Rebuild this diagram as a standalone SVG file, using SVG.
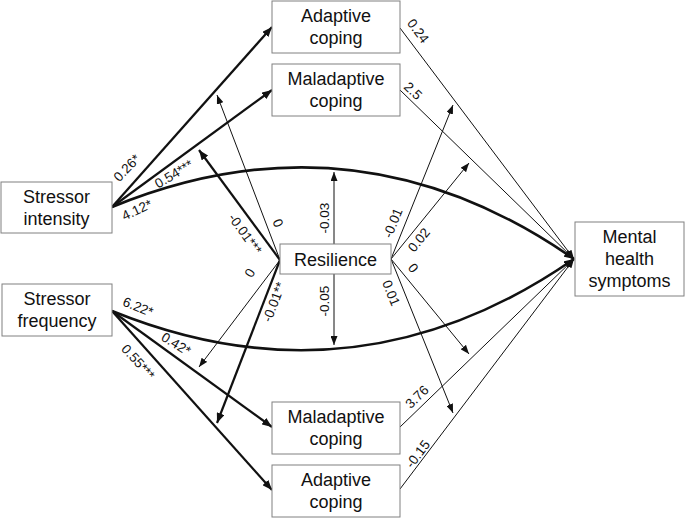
<svg xmlns="http://www.w3.org/2000/svg" width="685" height="519" viewBox="0 0 685 519">
<style>
.box{fill:#fff;stroke:#808080;stroke-width:1}
.nt{font-family:"Liberation Sans",Arial,sans-serif;font-size:18px;fill:#111;text-anchor:middle}
.lb{font-family:"Liberation Sans",Arial,sans-serif;font-size:13.5px;fill:#111;text-anchor:middle;dominant-baseline:central}
.thin{fill:none;stroke:#111;stroke-width:1;marker-end:url(#ah)}
.thick{fill:none;stroke:#111;stroke-width:2.2;marker-end:url(#ahb)}
.curve{fill:none;stroke:#111;stroke-width:2.6;marker-end:url(#ahb)}
</style>
<defs>
<marker id="ah" markerUnits="userSpaceOnUse" markerWidth="9" markerHeight="7" refX="9" refY="3.5" orient="auto"><path d="M0,0 L9,3.5 L0,7 z" fill="#111"/></marker>
<marker id="ahb" markerUnits="userSpaceOnUse" markerWidth="10" markerHeight="8" refX="10" refY="4" orient="auto"><path d="M0,0 L10,4 L0,8 z" fill="#111"/></marker>
</defs>
<rect width="685" height="519" fill="#fff"/>
<g id="connectors">
<path class="curve" d="M112,207 Q356,107 574,259"/>
<path class="curve" d="M112,311 Q356,410 574,259"/>
<line class="thick" x1="112" y1="207" x2="272" y2="27"/>
<line class="thick" x1="112" y1="207" x2="272" y2="90"/>
<line class="thick" x1="112" y1="311" x2="272" y2="427"/>
<line class="thick" x1="112" y1="311" x2="272" y2="490"/>
<line class="thin" x1="400" y1="28" x2="574" y2="259"/>
<line class="thin" x1="400" y1="90" x2="574" y2="259"/>
<line class="thin" x1="400" y1="427" x2="574" y2="259"/>
<line class="thin" x1="400" y1="489" x2="574" y2="259"/>
<line class="thick" x1="280" y1="260" x2="199" y2="150"/>
<line class="thin" x1="280" y1="260" x2="217" y2="95"/>
<line class="thin" x1="280" y1="260" x2="199" y2="367"/>
<line class="thick" x1="280" y1="260" x2="217" y2="423"/>
<line class="thin" x1="334" y1="244" x2="334" y2="172"/>
<line class="thin" x1="334" y1="274" x2="334" y2="345"/>
<line class="thin" x1="391" y1="259" x2="453" y2="105"/>
<line class="thin" x1="391" y1="259" x2="469" y2="163"/>
<line class="thin" x1="391" y1="259" x2="469" y2="354"/>
<line class="thin" x1="391" y1="259" x2="453" y2="413"/>
<text class="lb" transform="translate(127,168) rotate(-46)">0.26*</text>
<text class="lb" transform="translate(174,174) rotate(-31)">0.54***</text>
<text class="lb" transform="translate(137,210) rotate(-25)">4.12*</text>
<text class="lb" transform="translate(138,307) rotate(22)">6.22*</text>
<text class="lb" transform="translate(176,344) rotate(31)">0.42*</text>
<text class="lb" transform="translate(138,362) rotate(48)">0.55***</text>
<text class="lb" transform="translate(245,234) rotate(54)">-0.01***</text>
<text class="lb" transform="translate(278,223) rotate(66)">0</text>
<text class="lb" transform="translate(250,273) rotate(-60)">0</text>
<text class="lb" transform="translate(274,302) rotate(-69)">-0.01**</text>
<text class="lb" transform="translate(324,218) rotate(-90)">-0.03</text>
<text class="lb" transform="translate(324,301) rotate(-90)">-0.05</text>
<text class="lb" transform="translate(393,223) rotate(-68)">-0.01</text>
<text class="lb" transform="translate(419,240) rotate(-51)">0.02</text>
<text class="lb" transform="translate(413,268) rotate(51)">0</text>
<text class="lb" transform="translate(391,293) rotate(68)">0.01</text>
<text class="lb" transform="translate(418,31) rotate(53)">0.24</text>
<text class="lb" transform="translate(413,91) rotate(44)">2.5</text>
<text class="lb" transform="translate(417,397) rotate(-44)">3.76</text>
<text class="lb" transform="translate(418,454) rotate(-53)">-0.15</text>
</g>
<g id="adaptive-top"><rect class="box" x="272" y="1" width="128" height="52"/><text class="nt" x="336" y="22">Adaptive</text><text class="nt" x="336" y="44">coping</text></g>
<g id="maladaptive-top"><rect class="box" x="272" y="64" width="128" height="52"/><text class="nt" x="336" y="85">Maladaptive</text><text class="nt" x="336" y="107">coping</text></g>
<g id="stressor-intensity"><rect class="box" x="1" y="182" width="111" height="51"/><text class="nt" x="56.5" y="203">Stressor</text><text class="nt" x="56.5" y="225">intensity</text></g>
<g id="resilience"><rect class="box" x="280" y="244" width="111" height="30"/><text class="nt" x="335.5" y="265.5">Resilience</text></g>
<g id="stressor-frequency"><rect class="box" x="2" y="284" width="110" height="52"/><text class="nt" x="57" y="305">Stressor</text><text class="nt" x="57" y="327">frequency</text></g>
<g id="maladaptive-bottom"><rect class="box" x="272" y="402" width="128" height="52"/><text class="nt" x="336" y="423">Maladaptive</text><text class="nt" x="336" y="445">coping</text></g>
<g id="adaptive-bottom"><rect class="box" x="272" y="465" width="128" height="52"/><text class="nt" x="336" y="486">Adaptive</text><text class="nt" x="336" y="508">coping</text></g>
<g id="mental-health"><rect class="box" x="575" y="222" width="109" height="74"/><text class="nt" x="629.5" y="243">Mental</text><text class="nt" x="629.5" y="265">health</text><text class="nt" x="629.5" y="287">symptoms</text></g>
</svg>
